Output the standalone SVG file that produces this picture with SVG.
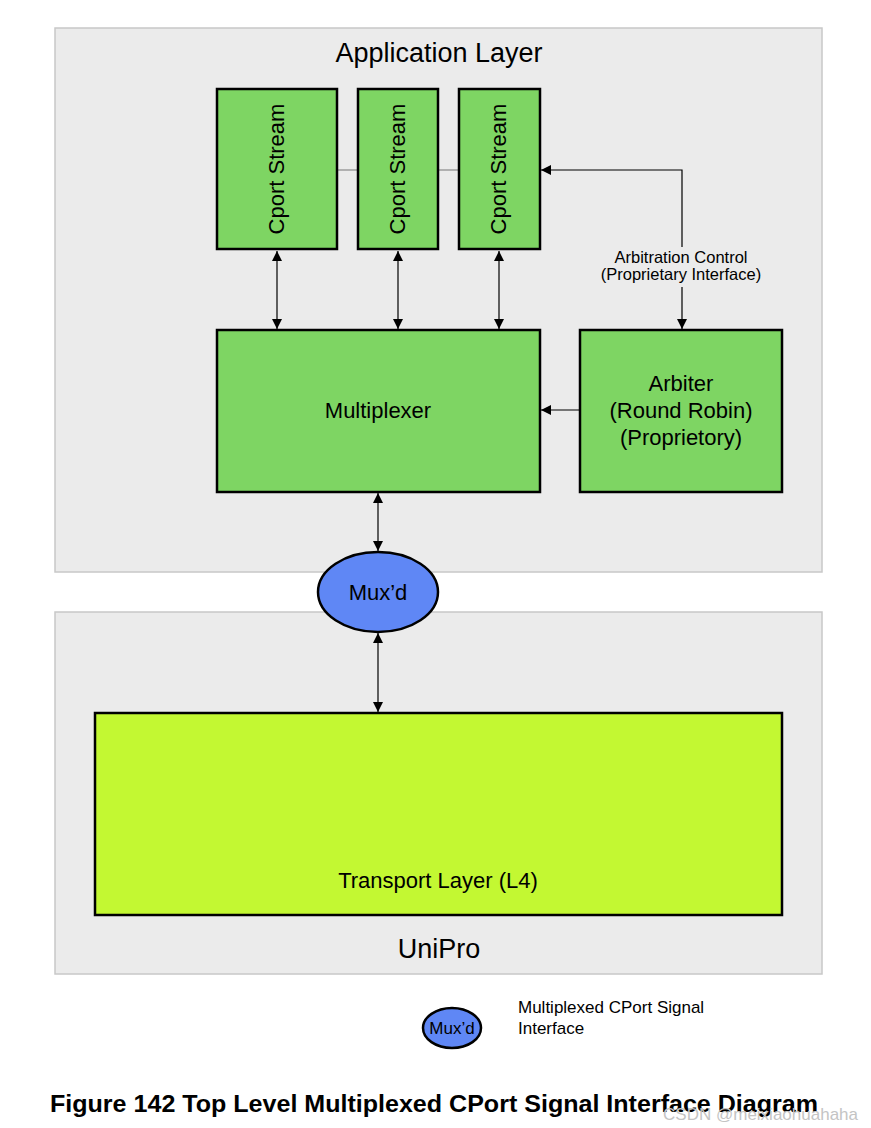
<svg xmlns="http://www.w3.org/2000/svg" width="871" height="1128" viewBox="0 0 871 1128">
<style>
text{font-family:"Liberation Sans",Arial,sans-serif;fill:#000}
.bg{fill:#ebebeb;stroke:#c8c8c8;stroke-width:1.5}
.g{fill:#7ed563;stroke:#000;stroke-width:2.5}
.c{stroke:#000;stroke-width:1.2;fill:none}
.t{font-size:22px;text-anchor:middle}
</style>
<defs>
<marker id="a" viewBox="0 0 10 10" refX="10" refY="5" markerWidth="10" markerHeight="10" markerUnits="userSpaceOnUse" orient="auto-start-reverse"><path d="M0,0L10,5L0,10z" fill="#000"/></marker>
</defs>
<rect width="871" height="1128" fill="#fff"/>
<g id="app"><rect class="bg" x="55" y="28" width="767" height="544"/><text x="439" y="62" font-size="27" text-anchor="middle">Application Layer</text></g>
<g id="unipro"><rect class="bg" x="55" y="612" width="767" height="362"/><text x="439" y="958" font-size="27" text-anchor="middle">UniPro</text></g>
<g id="connectors">
<path d="M337,170H358M438,170H459" stroke="#777" stroke-width="1.2"/>
<path class="c" d="M277,251V329" marker-start="url(#a)" marker-end="url(#a)"/>
<path class="c" d="M398,251V329" marker-start="url(#a)" marker-end="url(#a)"/>
<path class="c" d="M499,251V329" marker-start="url(#a)" marker-end="url(#a)"/>
<path class="c" d="M541,170H682V329" marker-start="url(#a)" marker-end="url(#a)"/>
<path class="c" d="M580,410H541" marker-end="url(#a)"/>
<path class="c" d="M378,493V551" marker-start="url(#a)" marker-end="url(#a)"/>
<path class="c" d="M378,633V712" marker-start="url(#a)" marker-end="url(#a)"/>
</g>
<g id="lbl"><rect x="594" y="247" width="176" height="40" fill="#ebebeb"/><text x="681" y="263" font-size="16.5" text-anchor="middle">Arbitration Control</text><text x="681" y="280" font-size="16.5" text-anchor="middle">(Proprietary Interface)</text></g>
<g id="cs1"><rect class="g" x="217" y="89" width="120" height="160"/><text class="t" transform="translate(284,169) rotate(-90)">Cport Stream</text></g>
<g id="cs2"><rect class="g" x="358" y="89" width="80" height="160"/><text class="t" transform="translate(405,169) rotate(-90)">Cport Stream</text></g>
<g id="cs3"><rect class="g" x="459" y="89" width="81" height="160"/><text class="t" transform="translate(506,169) rotate(-90)">Cport Stream</text></g>
<g id="mux"><rect class="g" x="217" y="330" width="323" height="162"/><text class="t" x="378" y="418">Multiplexer</text></g>
<g id="arb"><rect class="g" x="580" y="330" width="202" height="162"/><text class="t" x="681" y="391">Arbiter</text><text class="t" x="681" y="418">(Round Robin)</text><text class="t" x="681" y="445">(Proprietory)</text></g>
<g id="muxd"><ellipse cx="378" cy="592" rx="60" ry="40" fill="#5f87f5" stroke="#000" stroke-width="2.5"/><text class="t" x="378" y="600">Mux’d</text></g>
<g id="tl"><rect x="95" y="713" width="687" height="202" fill="#c3f832" stroke="#000" stroke-width="2.5"/><text class="t" x="438" y="888">Transport Layer (L4)</text></g>
<g id="legend"><ellipse cx="452" cy="1028" rx="29" ry="20" fill="#5f87f5" stroke="#000" stroke-width="2.5"/><text x="452" y="1034" font-size="17" text-anchor="middle">Mux’d</text><text x="518" y="1013" font-size="17">Multiplexed CPort Signal</text><text x="518" y="1034" font-size="17">Interface</text></g>
<text x="50" y="1112" font-size="24" font-weight="bold" textLength="768" lengthAdjust="spacingAndGlyphs">Figure 142 Top Level Multiplexed CPort Signal Interface Diagram</text>
<text x="858" y="1120" font-size="17" text-anchor="end" style="fill:#c4c4c4">CSDN @meixiaohuahaha</text>
</svg>
